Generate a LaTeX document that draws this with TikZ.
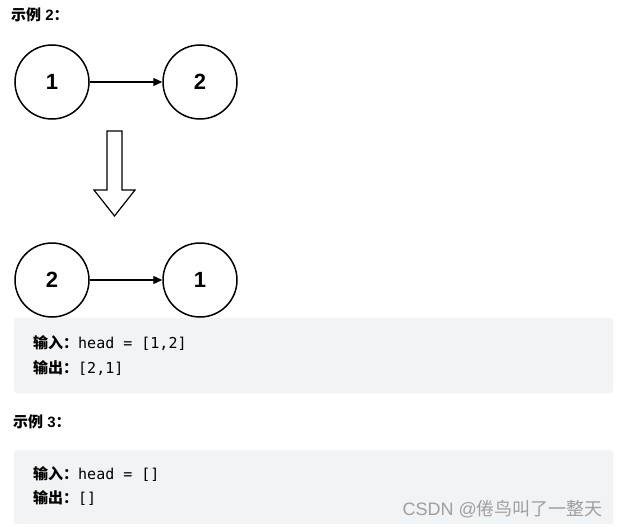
\documentclass[tikz,border=0pt]{standalone}
\usepackage{fontspec}
\setmainfont{Liberation Sans}
\setmonofont{DejaVu Sans Mono}
\newfontfamily\cjk{Noto Sans CJK SC}
\usetikzlibrary{arrows.meta}
\definecolor{codebg}{HTML}{F2F3F5}
\tikzset{
  listnode/.style={draw,circle,line width=1.5pt,minimum size=74pt,inner sep=0pt,font=\fontsize{22}{22}\selectfont\bfseries},
  codebox/.style={fill=codebg,rounded corners=3pt},
  codeline/.style={anchor=west,inner sep=0pt,font=\fontsize{15}{15}\selectfont},
  heading/.style={anchor=west,inner sep=0pt,font=\fontsize{15}{15}\selectfont\bfseries}
}
\begin{document}
\begin{tikzpicture}[x=1pt,y=-1pt]
  \useasboundingbox[fill=white] (0,0) rectangle (618,527);
  % exemplul 2
  \node[heading] (h2) at (11,15) {{\cjk 示例} 2{\cjk ：}};
  % lista inițială
  \node[listnode] (a1) at (52,82) {1};
  \node[listnode] (a2) at (200,82) {2};
  \draw[line width=1.2pt,-{Triangle[length=9pt,width=8pt]}] (a1) -- (a2);
  % săgeata goală în jos
  \draw[line width=1.2pt] (107,131) -- (122,131) -- (122,190) -- (135,190) -- (114.5,216) -- (94,190) -- (107,190) -- cycle;
  % lista inversată
  \node[listnode] (b2) at (52,280) {2};
  \node[listnode] (b1) at (200,280) {1};
  \draw[line width=1.2pt,-{Triangle[length=9pt,width=8pt]}] (b2) -- (b1);
  % cutia de cod
  \fill[codebox] (14,318) rectangle (613,393);
  \node[codeline] (in2) at (33,343) {{\cjk\bfseries 输入：}\texttt{head = [1,2]}};
  \node[codeline] (out2) at (33,368) {{\cjk\bfseries 输出：}\texttt{[2,1]}};
  % exemplul 3
  \node[heading] (h3) at (13,422) {{\cjk 示例} 3{\cjk ：}};
  \fill[codebox] (14,450) rectangle (613,524);
  \node[codeline] (in3) at (33,474) {{\cjk\bfseries 输入：}\texttt{head = []}};
  \node[codeline] (out3) at (33,498) {{\cjk\bfseries 输出：}\texttt{[]}};
  \node[anchor=east,inner sep=0pt,text=gray!75,font=\fontsize{18}{18}\selectfont] (wm) at (603,509) {CSDN @{\cjk 倦鸟叫了一整天}};
\end{tikzpicture}
\end{document}
